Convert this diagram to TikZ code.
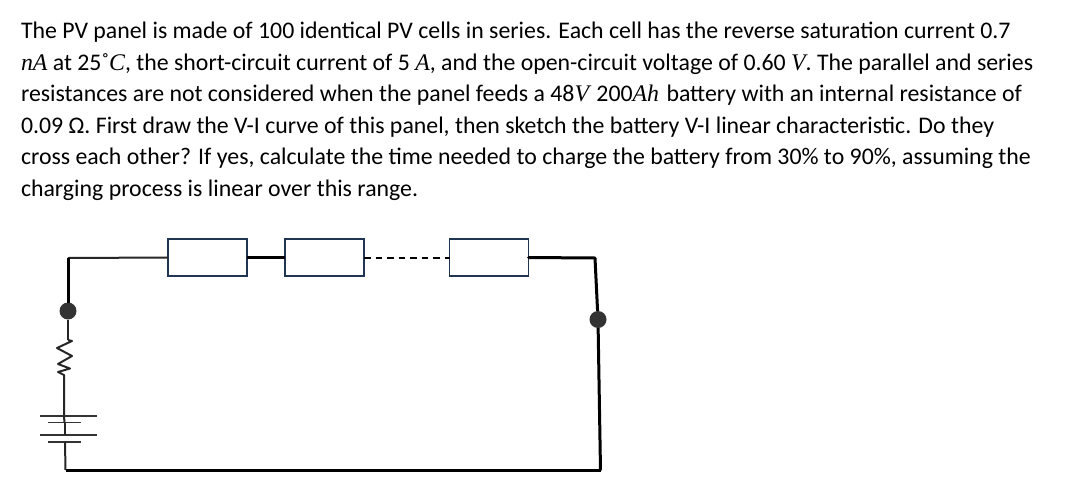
\documentclass[tikz,border=0pt]{standalone}
\usepackage{fontspec}
\setmainfont{Carlito}
\newfontfamily\varfont[Scale=1.0]{Liberation Serif}
\newcommand{\qty}[1]{{\varfont\itshape #1}}
\definecolor{boxnavy}{HTML}{1F3552}
\definecolor{dotgrey}{HTML}{333333}
\tikzset{
  textline/.style={anchor=base west,inner sep=0pt,outer sep=0pt,font=\fontsize{23.82}{28}\selectfont},
  cellbox/.style={draw=boxnavy,line width=1.7pt,fill=white,minimum width=79pt,minimum height=37pt,inner sep=0pt,outer sep=0pt},
  terminal/.style={circle,fill=dotgrey,minimum size=17pt,inner sep=0pt,outer sep=0pt},
  heavy/.style={draw=black,line width=3pt},
  wire/.style={draw=black!85,line width=2pt},
  plate/.style={draw=black!80,line width=1.8pt},
}
\begin{document}
\begin{tikzpicture}[x=1pt,y=-1pt]
\useasboundingbox (0,0) rectangle (1066,501);
\fill[white] (0,0) rectangle (1066,501);
\node[textline] (t1) at (21,38) {The PV panel is made of 100 identical PV cells in series. Each cell has the reverse saturation current 0.7};
\node[textline] (t2) at (21,70) {\qty{nA} at 25˚\qty{C}, the short-circuit current of 5 \qty{A}, and the open-circuit voltage of 0.60 \qty{V}. The parallel and series};
\node[textline] (t3) at (21,101) {resistances are not considered when the panel feeds a 48\qty{V} \kern2pt 200\qty{Ah} \kern2pt battery with an internal resistance of};
\node[textline] (t4) at (21,133) {0.09 Ω. First draw the V-I curve of this panel, then sketch the battery V-I linear characteristic. Do they};
\node[textline] (t5) at (21,164) {cross each other? If yes, calculate the time needed to charge the battery from 30\% to 90\%, assuming the};
\node[textline] (t6) at (21,196) {charging process is linear over this range.};

\node[cellbox] (b1) at (207.5,257.5) {};
\node[cellbox] (b2) at (324.5,257.5) {};
\node[cellbox] (b3) at (489,257.5) {};
\node[terminal] (tl) at (68,311) {};
\node[terminal] (tr) at (598,319.5) {};

\coordinate (cl) at (68,258);
\coordinate (cr) at (595,258);
\coordinate (bl) at (66,470.5);
\coordinate (br) at (600.5,470.5);
\coordinate (r0) at (68,340);
\coordinate (r1) at (72,341);
\coordinate (r2) at (57,348);
\coordinate (r3) at (72,356);
\coordinate (r4) at (58,364);
\coordinate (r5) at (70,368.5);
\coordinate (r6) at (58,372);
\coordinate (r7) at (64,375);
\coordinate (p1) at (64,416);
\coordinate (p1a) at (40,416);
\coordinate (p1b) at (97,416);
\coordinate (p2) at (64.5,422.5);
\coordinate (p2a) at (48,422.5);
\coordinate (p2b) at (81,422.5);
\coordinate (p3) at (64.5,435);
\coordinate (p3a) at (40,435);
\coordinate (p3b) at (97,435);
\coordinate (p4) at (65,442);
\coordinate (p4a) at (48,442);
\coordinate (p4b) at (81,442);
\coordinate (p5) at (65.5,470);

\draw[wire] (cl) -- (b1.west);
\draw[heavy] (tl) -- (cl);
\draw[heavy] (b1.east) -- (b2.west);
\draw[black,line width=2pt,dash pattern=on 6.5pt off 5pt] (b2.east) -- (b3.west);
\draw[heavy,line cap=round] (b3.east) -- (cr);
\draw[heavy] (cr) -- (tr);
\draw[heavy] (tr) -- (br);
\draw[heavy] (bl) -- (br);
\draw[wire] (tl) -- (r0);
\draw[wire,line join=round] (r0) -- (r1) -- (r2) -- (r3) -- (r4) -- (r5) -- (r6) -- (r7) -- (p1);
\draw[plate] (p1a) -- (p1b);
\draw[plate] (p2a) -- (p2b);
\draw[plate] (p3a) -- (p3b);
\draw[plate] (p4a) -- (p4b);
\draw[wire] (p1) -- (p2);
\draw[wire] (p2) -- (p3);
\draw[wire] (p4) -- (p5);
\end{tikzpicture}
\end{document}
